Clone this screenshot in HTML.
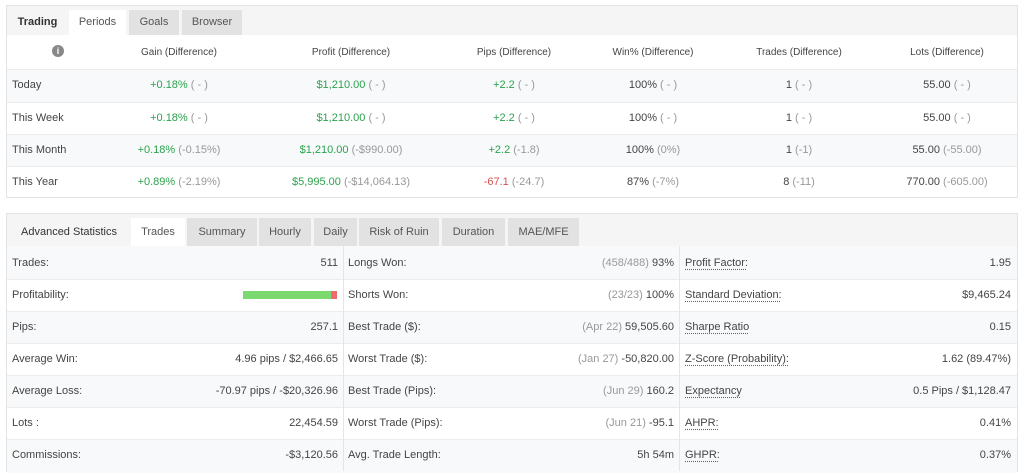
<!DOCTYPE html>
<html><head><meta charset="utf-8"><style>
*{margin:0;padding:0;box-sizing:border-box}
body{width:1024px;height:476px;background:#fff;font-family:"Liberation Sans",sans-serif;font-size:11px;color:#444;position:relative;overflow:hidden}
.panel{position:absolute;border:1px solid #e3e3e3;background:#fff}
.tabbar{position:absolute;left:0;right:0;top:0;height:29px;background:#f5f5f5}
.tab{position:absolute;top:4px;height:25px;line-height:25px;text-align:center;background:#e2e2e2;color:#555}
.tab.act{background:#fff}
.tab.plain{background:transparent;color:#333}
.row{position:absolute;left:0;right:0;border-top:1px solid #ececec}
.alt{background:#f7f9fb}
.c{position:absolute;text-align:center;white-space:nowrap}
.g{color:#2ca24c}.r{color:#d9534f}.m{color:#999}
.l{position:absolute;white-space:nowrap}
.rt{position:absolute;white-space:nowrap;text-align:right}
.u{text-decoration:underline dotted #666;text-underline-offset:3px}
.vl{position:absolute;top:32px;bottom:0;width:1px;background:#e5e5e5}
.col{position:absolute;top:33px;width:326px;line-height:32px}
.col>div{position:relative;height:32px}
</style></head><body>
<div class="panel" style="left:6px;top:5px;width:1012px;height:193px">
 <div class="tabbar"></div>
 <div class="tab plain" style="left:2px;width:57px;font-weight:bold">Trading</div>
 <div class="tab act" style="left:62px;width:57px">Periods</div>
 <div class="tab" style="left:122px;width:50px">Goals</div>
 <div class="tab" style="left:175px;width:60px">Browser</div>
 <div class="row" style="top:29px;height:34px;border-top:none">
  <div class="c" style="left:45px;top:10px;width:12px;height:12px;border-radius:6px;background:#888;color:#fff;font-size:9px;line-height:12px;font-weight:bold">i</div>
  <div class="c" style="left:112px;width:120px;top:12px;font-size:10px">Gain (Difference)</div>
  <div class="c" style="left:284px;width:120px;top:12px;font-size:10px">Profit (Difference)</div>
  <div class="c" style="left:447px;width:120px;top:12px;font-size:10px">Pips (Difference)</div>
  <div class="c" style="left:586px;width:120px;top:12px;font-size:10px">Win% (Difference)</div>
  <div class="c" style="left:722px;width:140px;top:12px;font-size:10px">Trades (Difference)</div>
  <div class="c" style="left:880px;width:120px;top:12px;font-size:10px">Lots (Difference)</div>
 </div>
 <div class="row alt" style="top:63px;height:33px">
  <div class="l" style="left:5px;top:9px">Today</div>
  <div class="c" style="left:112px;width:120px;top:9px"><span class="g">+0.18%</span> <span class="m">( - )</span></div>
  <div class="c" style="left:264px;width:160px;top:9px"><span class="g">$1,210.00</span> <span class="m">( - )</span></div>
  <div class="c" style="left:447px;width:120px;top:9px"><span class="g">+2.2</span> <span class="m">( - )</span></div>
  <div class="c" style="left:586px;width:120px;top:9px">100% <span class="m">( - )</span></div>
  <div class="c" style="left:732px;width:120px;top:9px">1 <span class="m">( - )</span></div>
  <div class="c" style="left:880px;width:120px;top:9px">55.00 <span class="m">( - )</span></div>
 </div>
 <div class="row" style="top:96px;height:32px">
  <div class="l" style="left:5px;top:9px">This Week</div>
  <div class="c" style="left:112px;width:120px;top:9px"><span class="g">+0.18%</span> <span class="m">( - )</span></div>
  <div class="c" style="left:264px;width:160px;top:9px"><span class="g">$1,210.00</span> <span class="m">( - )</span></div>
  <div class="c" style="left:447px;width:120px;top:9px"><span class="g">+2.2</span> <span class="m">( - )</span></div>
  <div class="c" style="left:586px;width:120px;top:9px">100% <span class="m">( - )</span></div>
  <div class="c" style="left:732px;width:120px;top:9px">1 <span class="m">( - )</span></div>
  <div class="c" style="left:880px;width:120px;top:9px">55.00 <span class="m">( - )</span></div>
 </div>
 <div class="row alt" style="top:128px;height:32px">
  <div class="l" style="left:5px;top:9px">This Month</div>
  <div class="c" style="left:102px;width:140px;top:9px"><span class="g">+0.18%</span> <span class="m">(-0.15%)</span></div>
  <div class="c" style="left:254px;width:180px;top:9px"><span class="g">$1,210.00</span> <span class="m">(-$990.00)</span></div>
  <div class="c" style="left:447px;width:120px;top:9px"><span class="g">+2.2</span> <span class="m">(-1.8)</span></div>
  <div class="c" style="left:586px;width:120px;top:9px">100% <span class="m">(0%)</span></div>
  <div class="c" style="left:732px;width:120px;top:9px">1 <span class="m">(-1)</span></div>
  <div class="c" style="left:870px;width:140px;top:9px">55.00 <span class="m">(-55.00)</span></div>
 </div>
 <div class="row" style="top:160px;height:32px">
  <div class="l" style="left:5px;top:9px">This Year</div>
  <div class="c" style="left:102px;width:140px;top:9px"><span class="g">+0.89%</span> <span class="m">(-2.19%)</span></div>
  <div class="c" style="left:244px;width:200px;top:9px"><span class="g">$5,995.00</span> <span class="m">(-$14,064.13)</span></div>
  <div class="c" style="left:447px;width:120px;top:9px"><span class="r">-67.1</span> <span class="m">(-24.7)</span></div>
  <div class="c" style="left:586px;width:120px;top:9px">87% <span class="m">(-7%)</span></div>
  <div class="c" style="left:732px;width:120px;top:9px">8 <span class="m">(-11)</span></div>
  <div class="c" style="left:870px;width:140px;top:9px">770.00 <span class="m">(-605.00)</span></div>
 </div>
</div>

<div class="panel" style="left:6px;top:213px;width:1012px;height:259px">
 <div class="tabbar" style="height:32px"></div>
 <div class="tab plain" style="left:2px;width:120px;top:4px;height:28px;line-height:28px">Advanced Statistics</div>
 <div class="tab act" style="left:124px;width:54px;top:4px;height:28px;line-height:28px">Trades</div>
 <div class="tab" style="left:180px;width:70px;top:4px;height:28px;line-height:28px">Summary</div>
 <div class="tab" style="left:252px;width:52px;top:4px;height:28px;line-height:28px">Hourly</div>
 <div class="tab" style="left:307px;width:43px;top:4px;height:28px;line-height:28px">Daily</div>
 <div class="tab" style="left:352px;width:80px;top:4px;height:28px;line-height:28px">Risk of Ruin</div>
 <div class="tab" style="left:435px;width:63px;top:4px;height:28px;line-height:28px">Duration</div>
 <div class="tab" style="left:501px;width:71px;top:4px;height:28px;line-height:28px">MAE/MFE</div>
 <div class="row alt" style="top:32px;height:33px;border-top:none"></div>
 <div class="row" style="top:65px;height:32px"></div>
 <div class="row alt" style="top:97px;height:32px"></div>
 <div class="row" style="top:129px;height:32px"></div>
 <div class="row alt" style="top:161px;height:32px"></div>
 <div class="row" style="top:193px;height:32px"></div>
 <div class="row alt" style="top:225px;height:34px"></div>
 <div class="vl" style="left:336px"></div>
 <div class="vl" style="left:672px"></div>
 <div style="position:absolute;left:236px;top:77px;width:88px;height:8px;background:#7cd96f"></div>
 <div style="position:absolute;left:324px;top:77px;width:6px;height:8px;background:#ef6b6b"></div>
 <div class="col" style="left:5px">
  <div><span class="l" style="left:0">Trades:</span><span class="rt" style="right:0">511</span></div>
  <div><span class="l" style="left:0">Profitability:</span></div>
  <div><span class="l" style="left:0">Pips:</span><span class="rt" style="right:0">257.1</span></div>
  <div><span class="l" style="left:0">Average Win:</span><span class="rt" style="right:0">4.96 pips / $2,466.65</span></div>
  <div><span class="l" style="left:0">Average Loss:</span><span class="rt" style="right:0">-70.97 pips / -$20,326.96</span></div>
  <div><span class="l" style="left:0">Lots :</span><span class="rt" style="right:0">22,454.59</span></div>
  <div><span class="l" style="left:0">Commissions:</span><span class="rt" style="right:0">-$3,120.56</span></div>
 </div>
 <div class="col" style="left:341px">
  <div><span class="l" style="left:0">Longs Won:</span><span class="rt" style="right:0"><span class="m">(458/488)</span> 93%</span></div>
  <div><span class="l" style="left:0">Shorts Won:</span><span class="rt" style="right:0"><span class="m">(23/23)</span> 100%</span></div>
  <div><span class="l" style="left:0">Best Trade ($):</span><span class="rt" style="right:0"><span class="m">(Apr 22)</span> 59,505.60</span></div>
  <div><span class="l" style="left:0">Worst Trade ($):</span><span class="rt" style="right:0"><span class="m">(Jan 27)</span> -50,820.00</span></div>
  <div><span class="l" style="left:0">Best Trade (Pips):</span><span class="rt" style="right:0"><span class="m">(Jun 29)</span> 160.2</span></div>
  <div><span class="l" style="left:0">Worst Trade (Pips):</span><span class="rt" style="right:0"><span class="m">(Jun 21)</span> -95.1</span></div>
  <div><span class="l" style="left:0">Avg. Trade Length:</span><span class="rt" style="right:0">5h 54m</span></div>
 </div>
 <div class="col" style="left:678px">
  <div><span class="l u" style="left:0">Profit Factor:</span><span class="rt" style="right:0">1.95</span></div>
  <div><span class="l u" style="left:0">Standard Deviation:</span><span class="rt" style="right:0">$9,465.24</span></div>
  <div><span class="l u" style="left:0">Sharpe Ratio</span><span class="rt" style="right:0">0.15</span></div>
  <div><span class="l u" style="left:0">Z-Score (Probability):</span><span class="rt" style="right:0">1.62 (89.47%)</span></div>
  <div><span class="l u" style="left:0">Expectancy</span><span class="rt" style="right:0">0.5 Pips / $1,128.47</span></div>
  <div><span class="l u" style="left:0">AHPR:</span><span class="rt" style="right:0">0.41%</span></div>
  <div><span class="l u" style="left:0">GHPR:</span><span class="rt" style="right:0">0.37%</span></div>
 </div>
</div>
</body></html>
